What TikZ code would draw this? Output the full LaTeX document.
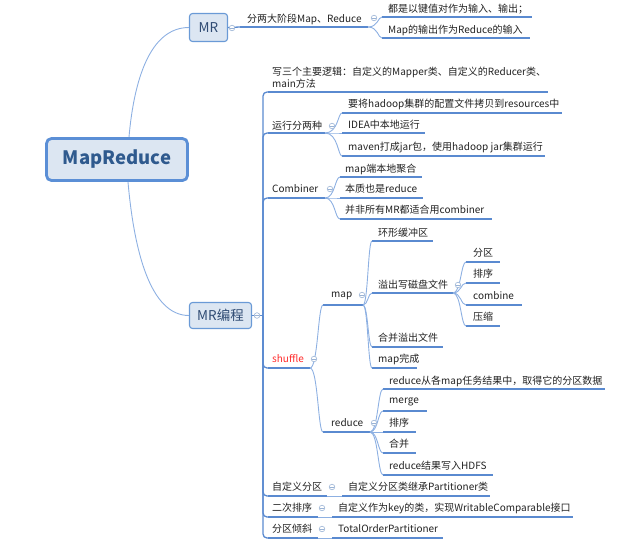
\documentclass[tikz,border=0pt]{standalone}
\usepackage{fontspec}
\newfontfamily\cjk{Noto Sans CJK SC}
\definecolor{ulc}{HTML}{5A8AD0}
\definecolor{cnc}{HTML}{8DB0E2}
\definecolor{boxf}{HTML}{DCE6F2}
\definecolor{boxb}{HTML}{6A9AD6}
\definecolor{rootb}{HTML}{5B8FD6}
\definecolor{boxt}{HTML}{2E4A72}
\definecolor{roott}{HTML}{2F5A8E}
\definecolor{circc}{HTML}{9AB3D5}
\definecolor{txtc}{HTML}{222222}
\definecolor{redt}{HTML}{FF2A2A}
\newcommand\mmleaf[7]{%
  \node[txt] (#1) at (#2,#3) {#7};
  \coordinate (#1-s) at (#4,#6);
  \coordinate (#1-e) at (#5,#6);
  \draw[ul] (#1-s) -- (#1-e);}
\newcommand\mmlink[2]{%
  \draw[conn] (#1-e) .. controls (#1-sp) and (#1-sp |- #2-s) .. (#2-s);}
\newcommand\mmspine[2]{%
  \draw[ul, rounded corners=4pt] (#1-sp) |- (#2-s);}
\begin{document}
\begin{tikzpicture}[x=1pt,y=-1pt,
  txt/.style={anchor=west, inner sep=0pt, font=\cjk\fontsize{10}{12}\selectfont, text=txtc},
  ul/.style={draw=ulc, line width=1.3pt},
  conn/.style={draw=cnc, line width=0.9pt},
  box/.style={rectangle, rounded corners=3pt, draw=boxb, fill=boxf, text=boxt, line width=1.1pt,
    font=\cjk\fontsize{13.5}{15}\selectfont, inner sep=0pt},
  rootbox/.style={rectangle, rounded corners=5pt, draw=rootb, fill=boxf, text=roott, line width=2.8pt,
    font=\cjk\bfseries\fontsize{18.5}{20}\selectfont, inner sep=0pt, minimum width=141pt, minimum height=42pt},
  collapse/.style={circle, draw=circc, fill=white, inner sep=0pt, minimum size=5.6pt, line width=0.6pt,
    path picture={\draw[circc, line width=0.5pt] ([xshift=-1.6pt]path picture bounding box.center) -- ([xshift=1.6pt]path picture bounding box.center);}}
]
\useasboundingbox (0,0) rectangle (620,552);

% central and main boxes
\node[rootbox] (root) at (117,159.5) {MapReduce};
\node[box, minimum width=38pt, minimum height=28pt] (MR) at (208.5,27.5) {MR};
\node[box, minimum width=62pt, minimum height=26pt] (MRB) at (220.5,315.5) {MR编程};

\coordinate (rt) at (129,137);
\coordinate (rb) at (128,182);
\draw[conn] (rt) .. controls (134,80) and (150,27.5) .. (MR.west);
\draw[conn] (rb) .. controls (134,250) and (150,315.5) .. (MRB.west);

% MR branch
\mmleaf{A}{247}{19}{240}{368}{27}{分两大阶段Map、Reduce}
\draw[ul] (MR.east) -- (A-s);
\coordinate (A-sp) at (378,27);
\mmleaf{A1}{388}{9}{382}{532}{17}{都是以键值对作为输入、输出；}
\mmleaf{A2}{388}{30}{382}{530}{38}{Map的输出作为Reduce的输入}
\mmlink{A}{A1}
\mmlink{A}{A2}

% MR编程 branch
\coordinate (MRB-sp) at (263,315.5);
\node[txt, align=left] (B1) at (272,77.5) {写三个主要逻辑：自定义的Mapper类、自定义的Reducer类、\\main方法};
\coordinate (B1-s) at (268,92);
\coordinate (B1-e) at (548,92);
\draw[ul] (B1-s) -- (B1-e);
\mmleaf{B2}{272}{126}{268}{325}{133}{运行分两种}
\mmleaf{B3}{272}{189}{268}{325}{198}{Combiner}
\mmleaf{B4}{272}{359}{268}{310}{368}{\textcolor{redt}{shuffle}}
\mmleaf{B5}{272}{487}{268}{327}{496}{自定义分区}
\mmleaf{B6}{272}{508}{268}{318}{517}{二次排序}
\mmleaf{B7}{272}{529}{268}{318}{538}{分区倾斜}
\draw[ul] (MRB.east) -- (MRB-sp);
\mmspine{MRB}{B1}
\mmspine{MRB}{B2}
\mmspine{MRB}{B3}
\mmspine{MRB}{B4}
\mmspine{MRB}{B5}
\mmspine{MRB}{B6}
\mmspine{MRB}{B7}

% 运行分两种
\coordinate (B2-sp) at (338,133);
\mmleaf{B2a}{348}{104}{342}{562}{113}{要将hadoop集群的配置文件拷贝到resources中}
\mmleaf{B2b}{348}{125}{342}{425}{133}{IDEA中本地运行}
\mmleaf{B2c}{348}{147}{342}{545}{156}{maven打成jar包，使用hadoop jar集群运行}
\mmlink{B2}{B2a}
\mmlink{B2}{B2b}
\mmlink{B2}{B2c}

% Combiner
\coordinate (B3-sp) at (335,198);
\mmleaf{B3a}{345}{169}{340}{422}{177}{map端本地聚合}
\mmleaf{B3b}{345}{189}{340}{423}{198}{本质也是reduce}
\mmleaf{B3c}{345}{210}{340}{492}{219}{并非所有MR都适合用combiner}
\mmlink{B3}{B3a}
\mmlink{B3}{B3b}
\mmlink{B3}{B3c}

% shuffle
\coordinate (B4-sp) at (318,368);
\mmleaf{M}{331}{296}{323}{363}{305}{map}
\mmleaf{R}{331}{423}{323}{370}{432}{reduce}
\mmlink{B4}{M}
\mmlink{B4}{R}

% map
\coordinate (M-sp) at (368,305);
\mmleaf{M1}{378}{233}{372}{433}{241}{环形缓冲区}
\mmleaf{M2}{378}{285}{372}{453}{293}{溢出写磁盘文件}
\mmleaf{M3}{378}{338}{372}{443}{347}{合并溢出文件}
\mmleaf{M4}{378}{359}{372}{417}{368}{map完成}
\mmlink{M}{M1}
\mmlink{M}{M2}
\mmlink{M}{M3}
\mmlink{M}{M4}

% 溢出写磁盘文件
\coordinate (M2-sp) at (461,293);
\mmleaf{S1}{473}{253}{466}{500}{262}{分区}
\mmleaf{S2}{473}{274}{466}{500}{283}{排序}
\mmleaf{S3}{473}{296}{466}{522}{305}{combine}
\mmleaf{S4}{473}{317}{466}{500}{326}{压缩}
\mmlink{M2}{S1}
\mmlink{M2}{S2}
\mmlink{M2}{S3}
\mmlink{M2}{S4}

% reduce
\coordinate (R-sp) at (378,432);
\mmleaf{R1}{389}{381}{383}{605}{389}{reduce从各map任务结果中，取得它的分区数据}
\mmleaf{R2}{389}{402}{383}{427}{411}{merge}
\mmleaf{R3}{389}{423}{383}{416}{432}{排序}
\mmleaf{R4}{389}{444}{383}{416}{453}{合并}
\mmleaf{R5}{389}{466}{383}{493}{475}{reduce结果写入HDFS}
\mmlink{R}{R1}
\mmlink{R}{R2}
\mmlink{R}{R3}
\mmlink{R}{R4}
\mmlink{R}{R5}

% single-child branches
\coordinate (B5-sp) at (335,496);
\mmleaf{B5a}{348}{487}{342}{490}{496}{自定义分区类继承Partitioner类}
\mmlink{B5}{B5a}
\coordinate (B6-sp) at (325,517);
\mmleaf{B6a}{338}{508}{332}{573}{517}{自定义作为key的类，实现WritableComparable接口}
\mmlink{B6}{B6a}
\coordinate (B7-sp) at (325,538);
\mmleaf{B7a}{338}{529}{332}{443}{538}{TotalOrderPartitioner}
\mmlink{B7}{B7a}

% collapse markers
\node[collapse] (cMR) at (232,28) {};
\node[collapse] (cA) at (374,18) {};
\node[collapse] (cMRB) at (257,315.5) {};
\node[collapse] (cB2) at (332,126) {};
\node[collapse] (cB3) at (330,189) {};
\node[collapse] (cB4) at (314,359) {};
\node[collapse] (cM) at (362,295) {};
\node[collapse] (cM2) at (458,285) {};
\node[collapse] (cR) at (374,423) {};
\node[collapse] (cB5) at (332,487) {};
\node[collapse] (cB6) at (322,508) {};
\node[collapse] (cB7) at (322,529) {};
\end{tikzpicture}
\end{document}
